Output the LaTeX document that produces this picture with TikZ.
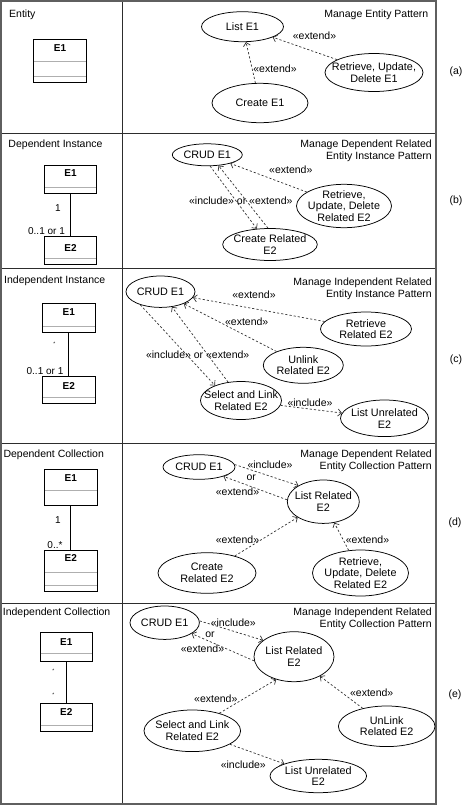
\documentclass[tikz,border=0pt]{standalone}
\usepackage{fontspec}
\setmainfont{Liberation Sans}
\usetikzlibrary{shapes.geometric,arrows.meta}
\newcommand\ucfont{\fontsize{10.8}{11.6}\selectfont}
\newcommand\lbfont{\fontsize{10.5}{12}\selectfont}
\newcommand\mlfont{\fontsize{10}{11}\selectfont}
\definecolor{framec}{RGB}{95,95,95}
\definecolor{rulec}{RGB}{45,45,45}
\definecolor{divc}{RGB}{175,175,175}
\begin{document}
\begin{tikzpicture}[x=1pt,y=-1pt,
  uc/.style={ellipse, draw=black, line width=0.75pt, inner sep=0pt},
  ucT/.style={font=\ucfont, align=center, inner sep=0pt},
  rel/.style={draw=black!80, line width=0.7pt, dash pattern=on 2.2pt off 2pt, -{Straight Barb[length=3.5pt,width=7pt]}},
  lbl/.style={font=\lbfont, inner sep=0pt},
  hd/.style={font=\lbfont, inner sep=0pt, align=right},
  ttl/.style={font=\lbfont, inner sep=0pt, anchor=west},
  tag/.style={font=\lbfont, inner sep=0pt},
  cls/.style={draw=black, line width=0.75pt, inner sep=0pt, fill=white},
  clsT/.style={font=\mlfont\bfseries, inner sep=0pt},
  divl/.style={draw=divc, line width=0.9pt},
  mult/.style={font=\mlfont, inner sep=0pt},
  star/.style={font=\fontsize{5}{5}\selectfont, inner sep=0pt},
  assoc/.style={draw=black, line width=0.75pt}]
\useasboundingbox (0,0) rectangle (474,809);

% ---------- table frame ----------
\draw[rulec, line width=1pt] (1,133) -- (436,133);
\draw[rulec, line width=1pt] (1,268) -- (436,268);
\draw[rulec, line width=1pt] (1,443) -- (436,443);
\draw[rulec, line width=1pt] (1,603) -- (436,603);
\draw[rulec, line width=1pt] (122,1) -- (122,804);
\draw[framec, line width=1.8pt] (1.2,1.2) rectangle (436,804);

% ================= (a) =================
\node[ttl] (aT) at (9,14.3) {Entity};
\node[hd, anchor=east] (aH) at (428.5,14.5) {Manage Entity Pattern};
\node[tag] (aTag) at (456,71.7) {(a)};
\node[cls, minimum width=53.4pt, minimum height=43.4pt] (aE1) at (60,61) {};
\draw[divl] (33.8,61.7) -- (86.2,61.7);
\draw[divl] (33.8,76) -- (86.2,76);
\node[clsT] (aE1t) at (60,47.7) {E1};

\node[uc, minimum width=82pt, minimum height=30pt, label={[ucT]center:List E1}] (aList) at (242.5,26.7) {};
\node[uc, minimum width=98pt, minimum height=38pt, label={[ucT]center:{Retrieve, Update,\\Delete E1}}] (aRet) at (374,72.5) {};
\node[uc, minimum width=96pt, minimum height=39.4pt, label={[ucT]center:Create E1}] (aCre) at (260,103) {};
\draw[rel] (aRet) -- (aList);
\draw[rel] (aCre) -- (aList);
\node[lbl] (aL1) at (314.5,36) {«extend»};
\node[lbl] (aL2) at (275,69) {«extend»};

% ================= (b) =================
\node[ttl] (bT) at (8.3,145) {Dependent Instance};
\node[hd, anchor=east] (bH) at (432,150.8) {Manage Dependent Related\\Entity Instance Pattern};
\node[tag] (bTag) at (456,201) {(b)};
\node[cls, minimum width=52.4pt, minimum height=28.3pt] (bE1) at (70.5,179.2) {};
\draw[divl] (44.8,187.3) -- (96.2,187.3);
\node[clsT] (bE1t) at (70.5,172.7) {E1};
\node[cls, minimum width=52.4pt, minimum height=27.3pt] (bE2) at (70.5,250.4) {};
\draw[divl] (44.8,258) -- (96.2,258);
\node[clsT] (bE2t) at (70.5,248.3) {E2};
\draw[assoc] (bE1.south) -- (bE2.north);
\node[mult] (bM1) at (58,207.7) {1};
\node[mult] (bM2) at (46.5,231) {0..1 or 1};

\node[uc, minimum width=70pt, minimum height=22pt, label={[ucT]center:CRUD E1}] (bCRUD) at (207.3,154.8) {};
\node[uc, minimum width=95pt, minimum height=43.4pt, label={[ucT]center:{Retrieve,\\Update, Delete\\Related E2}}] (bRet) at (344,206) {};
\node[uc, minimum width=94.6pt, minimum height=32pt, label={[ucT]center:{Create Related\\E2}}] (bCre) at (270,244.5) {};
\draw[rel] (bRet) -- (bCRUD);
\draw[rel] (bCRUD.-76) -- (bCre.130);
\draw[rel] (bCre.97) -- (bCRUD.-44);
\node[lbl] (bL1) at (290.8,169.3) {«extend»};
\node[lbl] (bL2) at (240.8,200.7) {«include» or «extend»};

% ================= (c) =================
\node[ttl] (cT) at (4,281) {Independent Instance};
\node[hd, anchor=east] (cH) at (432,288.3) {Manage Independent Related\\Entity Instance Pattern};
\node[tag] (cTag) at (456,359.3) {(c)};
\node[cls, minimum width=52.3pt, minimum height=29.4pt] (cE1) at (68.85,318) {};
\draw[divl] (43.2,326.7) -- (94.5,326.7);
\node[clsT] (cE1t) at (68.85,312.3) {E1};
\node[cls, minimum width=52.3pt, minimum height=26.6pt] (cE2) at (68.85,390) {};
\draw[divl] (43.2,397.7) -- (94.5,397.7);
\node[clsT] (cE2t) at (68.85,385.7) {E2};
\draw[assoc] (cE1.south) -- (cE2.north);
\node[star] (cM1) at (54.3,343.3) {*};
\node[mult] (cM2) at (45,371) {0..1 or 1};

\node[uc, minimum width=69pt, minimum height=31.4pt, label={[ucT]center:CRUD E1}] (cCRUD) at (160.5,291.7) {};
\node[uc, minimum width=91pt, minimum height=34pt, label={[ucT]center:{Retrieve\\Related E2}}] (cRet) at (366,329) {};
\node[uc, minimum width=80pt, minimum height=36pt, label={[ucT]center:{Unlink\\Related E2}}] (cUnl) at (303.3,365.3) {};
\node[uc, minimum width=81pt, minimum height=38pt, label={[ucT]center:{Select and Link\\Related E2}}] (cSel) at (241,400.5) {};
\node[uc, minimum width=88pt, minimum height=36.6pt, label={[ucT]center:{List Unrelated\\E2}}] (cLU) at (384.5,418.3) {};
\draw[rel] (cRet) -- (cCRUD);
\draw[rel] (cUnl) -- (cCRUD);
\draw[rel] (cCRUD.-147) -- (cSel.150);
\draw[rel] (cSel.125) -- (cCRUD.-53);
\draw[rel] (cSel) -- (cLU);
\node[lbl] (cL1) at (254,294.3) {«extend»};
\node[lbl] (cL2) at (246.7,321.7) {«extend»};
\node[lbl] (cL3) at (197.7,355) {«include» or «extend»};
\node[lbl] (cL4) at (310,402.7) {«include»};

% ================= (d) =================
\node[ttl] (dT) at (3.3,455) {Dependent Collection};
\node[hd, anchor=east] (dH) at (432,461.2) {Manage Dependent Related\\Entity Collection Pattern};
\node[tag] (dTag) at (455,522.7) {(d)};
\node[cls, minimum width=53pt, minimum height=35.7pt] (dE1) at (70.8,487.2) {};
\draw[divl] (44.8,490) -- (96.8,490);
\node[clsT] (dE1t) at (70.8,478.3) {E1};
\node[cls, minimum width=53pt, minimum height=41pt] (dE2) at (70.8,571.2) {};
\draw[divl] (44.8,572) -- (96.8,572);
\draw[divl] (44.8,585) -- (96.8,585);
\node[clsT] (dE2t) at (70.8,558.3) {E2};
\draw[assoc] (dE1.south) -- (dE2.north);
\node[mult] (dM1) at (58,520) {1};
\node[mult] (dM2) at (55,545) {0..*};

\node[uc, minimum width=72pt, minimum height=24.6pt, label={[ucT]center:CRUD E1}] (dCRUD) at (199,467) {};
\node[uc, minimum width=72pt, minimum height=43.4pt, label={[ucT]center:{List Related\\E2}}] (dLR) at (323.3,501.7) {};
\node[uc, minimum width=98pt, minimum height=40.6pt, label={[ucT]center:{Create\\Related E2}}] (dCre) at (207,573) {};
\node[uc, minimum width=96pt, minimum height=46pt, label={[ucT]center:{Retrieve,\\Update, Delete\\Related E2}}] (dRet) at (360.5,573) {};
\draw[rel] (dCRUD.4) -- (dLR.147);
\draw[rel] (dLR.177) -- (dCRUD.-21);
\draw[rel] (dCre) -- (dLR);
\draw[rel] (dRet) -- (dLR);
\node[lbl] (dL1) at (270,465) {«include»};
\node[lbl] (dL2) at (251.3,477.3) {or};
\node[lbl] (dL3) at (237.5,491.7) {«extend»};
\node[lbl] (dL4) at (237.5,540) {«extend»};
\node[lbl] (dL5) at (367.5,540) {«extend»};

% ================= (e) =================
\node[ttl] (eT) at (2.7,612.7) {Independent Collection};
\node[hd, anchor=east] (eH) at (432,618.5) {Manage Independent Related\\Entity Collection Pattern};
\node[tag] (eTag) at (455,694.3) {(e)};
\node[cls, minimum width=52.7pt, minimum height=28.7pt] (eE1) at (66.35,646.65) {};
\draw[divl] (40.5,653.3) -- (92.2,653.3);
\node[clsT] (eE1t) at (66.35,641.7) {E1};
\node[cls, minimum width=52.7pt, minimum height=27.7pt] (eE2) at (66.35,717.15) {};
\draw[divl] (40.5,725) -- (92.2,725);
\node[clsT] (eE2t) at (66.35,711.7) {E2};
\draw[assoc] (eE1.south) -- (eE2.north);
\node[star] (eM1) at (53.3,671) {*};
\node[star] (eM2) at (53.3,694.3) {*};

\node[uc, minimum width=69.4pt, minimum height=33.4pt, label={[ucT]center:CRUD E1}] (eCRUD) at (164.7,622.7) {};
\node[uc, minimum width=80pt, minimum height=50pt, label={[ucT]center:{List Related\\E2}}] (eLR) at (294,656.7) {};
\node[uc, minimum width=96.6pt, minimum height=41.6pt, label={[ucT]center:{Select and Link\\Related E2}}] (eSel) at (192.3,730.8) {};
\node[uc, minimum width=96.6pt, minimum height=40.6pt, label={[ucT]center:{UnLink\\Related E2}}] (eUnl) at (386.7,726.3) {};
\node[uc, minimum width=96.6pt, minimum height=33.4pt, label={[ucT]center:{List Unrelated\\E2}}] (eLU) at (318.3,776) {};
\draw[rel] (eCRUD.3) -- (eLR.152);
\draw[rel] (eLR.186) -- (eCRUD.-22);
\draw[rel] (eSel.33) -- (eLR.-128);
\draw[rel] (eUnl) -- (eLR);
\draw[rel] (eSel) -- (eLU);
\node[lbl] (eL1) at (233.3,622.7) {«include»};
\node[lbl] (eL2) at (210,634.3) {or};
\node[lbl] (eL3) at (202.5,648.3) {«extend»};
\node[lbl] (eL4) at (215.8,698.3) {«extend»};
\node[lbl] (eL5) at (371.7,692.7) {«extend»};
\node[lbl] (eL6) at (243.3,764.3) {«include»};
\end{tikzpicture}
\end{document}
